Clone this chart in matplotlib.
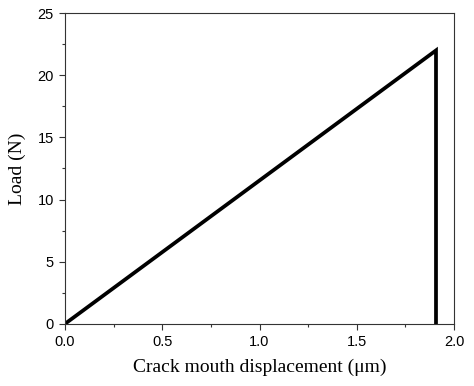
import matplotlib
matplotlib.use('Agg')
import matplotlib.pyplot as plt
from matplotlib.ticker import MultipleLocator, FormatStrFormatter

# load vs crack mouth displacement: linear rise then sudden drop
disp = [0.0, 1.907, 1.907]
load = [0.0, 22.0, 0.0]

fig = plt.figure(figsize=(4.74, 3.86), dpi=100)
ax = fig.add_axes([0.137, 0.161, 0.821, 0.805])

ax.plot(disp, load, color='black', linewidth=2.7, solid_joinstyle='miter')

ax.set_xlim(0, 2.0)
ax.set_ylim(0, 25)
ax.xaxis.set_major_locator(MultipleLocator(0.5))
ax.xaxis.set_minor_locator(MultipleLocator(0.25))
ax.yaxis.set_major_locator(MultipleLocator(5))
ax.yaxis.set_minor_locator(MultipleLocator(2.5))
ax.xaxis.set_major_formatter(FormatStrFormatter('%.1f'))

ax.tick_params(which='both', direction='out', top=False, right=False,
               colors='#333333', labelcolor='black')
ax.tick_params(which='major', length=4, width=0.8, labelsize=10.5, pad=4)
ax.tick_params(which='minor', length=2.5, width=0.8)
for lbl in ax.get_xticklabels() + ax.get_yticklabels():
    lbl.set_family('Liberation Sans')

for s in ax.spines.values():
    s.set_linewidth(0.8)
    s.set_color('#333333')

ax.set_xlabel('Crack mouth displacement (\u03bcm)', family='Liberation Serif', fontsize=14, labelpad=7)
ax.set_ylabel('Load (N)', family='Liberation Serif', fontsize=14, labelpad=8)

fig.savefig('out.png', dpi=100)
